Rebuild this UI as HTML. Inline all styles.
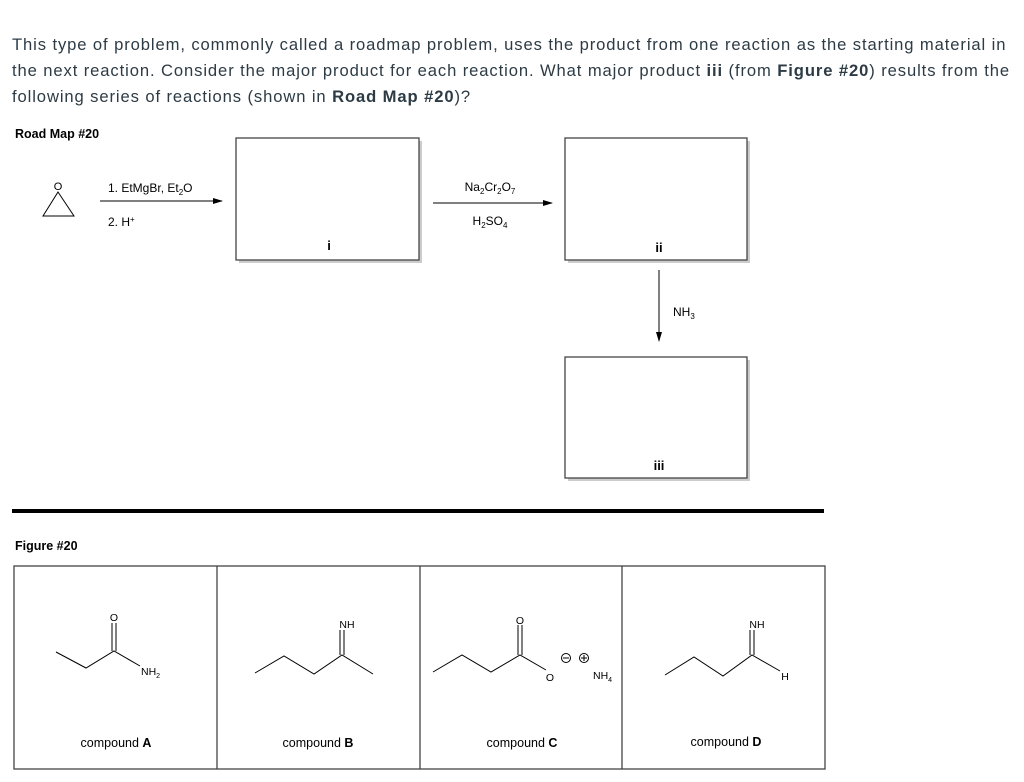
<!DOCTYPE html>
<html><head><meta charset="utf-8"><style>
html,body{margin:0;padding:0;background:#fff;width:1024px;height:782px;overflow:hidden}
p{position:absolute;left:12px;top:32px;margin:0;width:1012px;white-space:nowrap;font-family:"Liberation Sans",sans-serif;font-size:16.6px;letter-spacing:0.9px;line-height:26px;color:#2d3b45}
svg{position:absolute;left:0;top:0}
</style></head><body>
<p>This type of problem, commonly called a roadmap problem, uses the product from one reaction as the starting material in<br>the next reaction. Consider the major product for each reaction. What major product <b>iii</b> (from <b>Figure #20</b>) results from the<br>following series of reactions (shown in <b>Road Map #20</b>)?</p>
<svg width="1024" height="782" font-family="Liberation Sans, sans-serif" fill="#000">
<defs><marker id="ah" markerWidth="10" markerHeight="8" refX="9" refY="4" orient="auto" markerUnits="userSpaceOnUse"><path d="M0,1 L10,4 L0,7 z" fill="#000"/></marker></defs>
<text x="15" y="138" font-size="12.5" font-weight="bold">Road Map #20</text>
<rect x="239" y="141" width="183" height="122" fill="#ccc"/>
<rect x="236" y="138" width="183" height="122" fill="#fff" stroke="#444" stroke-width="1.3"/>
<rect x="568" y="141" width="182" height="122" fill="#ccc"/>
<rect x="565" y="138" width="182" height="122" fill="#fff" stroke="#444" stroke-width="1.3"/>
<rect x="568" y="360" width="182" height="121" fill="#ccc"/>
<rect x="565" y="357" width="182" height="121" fill="#fff" stroke="#444" stroke-width="1.3"/>
<text x="329" y="250" font-size="13" font-weight="bold" text-anchor="middle">i</text>
<text x="659" y="252" font-size="13" font-weight="bold" text-anchor="middle">ii</text>
<text x="659" y="470" font-size="13" font-weight="bold" text-anchor="middle">iii</text>
<text x="58" y="190" font-size="11" text-anchor="middle">O</text>
<path d="M58,192 L43,216 L74,216 Z" fill="none" stroke="#000" stroke-width="1"/>
<line x1="100" y1="201" x2="222" y2="201" stroke="#000" stroke-width="1" marker-end="url(#ah)"/>
<text x="108" y="192" font-size="12">1. EtMgBr, Et<tspan font-size="8" dy="3">2</tspan><tspan dy="-3">O</tspan></text>
<text x="108" y="226" font-size="12">2. H<tspan font-size="8" dy="-4">+</tspan></text>
<line x1="433" y1="203" x2="552" y2="203" stroke="#000" stroke-width="1" marker-end="url(#ah)"/>
<text x="490" y="191" font-size="12" text-anchor="middle">Na<tspan font-size="8" dy="3">2</tspan><tspan dy="-3">Cr</tspan><tspan font-size="8" dy="3">2</tspan><tspan dy="-3">O</tspan><tspan font-size="8" dy="3">7</tspan></text>
<text x="490" y="225" font-size="12" text-anchor="middle">H<tspan font-size="8" dy="3">2</tspan><tspan dy="-3">SO</tspan><tspan font-size="8" dy="3">4</tspan></text>
<line x1="659" y1="270" x2="659" y2="341" stroke="#000" stroke-width="1" marker-end="url(#ah)"/>
<text x="673" y="316" font-size="12">NH<tspan font-size="8" dy="3">3</tspan></text>
<rect x="12" y="509" width="812" height="4" fill="#000"/>
<text x="15" y="550" font-size="12.5" font-weight="bold">Figure #20</text>
<rect x="14" y="566" width="811" height="203" fill="none" stroke="#444" stroke-width="1.3"/>
<line x1="217" y1="566" x2="217" y2="769" stroke="#444" stroke-width="1.3"/>
<line x1="420" y1="566" x2="420" y2="769" stroke="#444" stroke-width="1.3"/>
<line x1="622" y1="566" x2="622" y2="769" stroke="#444" stroke-width="1.3"/>
<g stroke="#000" stroke-width="1" fill="none">
<polyline points="56,652 86,668 114,651 140,666"/>
<line x1="112" y1="623" x2="112" y2="651"/><line x1="116" y1="623" x2="116" y2="651"/>
<polyline points="255,673 284,656 314,674 342,655 373,674"/>
<line x1="340" y1="630" x2="340" y2="655"/><line x1="344" y1="630" x2="344" y2="655"/>
<polyline points="433,672 462,655 491,672 520,655 546,670"/>
<line x1="518" y1="625" x2="518" y2="655"/><line x1="522" y1="625" x2="522" y2="655"/>
<circle cx="566" cy="658" r="4.5"/><line x1="563" y1="658" x2="569" y2="658"/>
<circle cx="584" cy="658" r="4.5"/><line x1="581" y1="658" x2="587" y2="658"/><line x1="584" y1="655" x2="584" y2="661"/>
<polyline points="665,675 694,657 723,676 752,655 780,671"/>
<line x1="750" y1="630" x2="750" y2="655"/><line x1="754" y1="630" x2="754" y2="655"/>
</g>
<g font-size="10.5">
<text x="114" y="621" text-anchor="middle">O</text>
<text x="141" y="675">NH<tspan font-size="7" dy="3">2</tspan></text>
<text x="347" y="628" text-anchor="middle">NH</text>
<text x="520" y="624" text-anchor="middle">O</text>
<text x="550" y="681" text-anchor="middle">O</text>
<text x="593" y="679">NH<tspan font-size="7" dy="3">4</tspan></text>
<text x="757" y="628" text-anchor="middle">NH</text>
<text x="785" y="680" text-anchor="middle">H</text>
</g>
<g font-size="12.5" text-anchor="middle">
<text x="116" y="747">compound <tspan font-weight="bold">A</tspan></text>
<text x="318" y="747">compound <tspan font-weight="bold">B</tspan></text>
<text x="522" y="747">compound <tspan font-weight="bold">C</tspan></text>
<text x="726" y="746">compound <tspan font-weight="bold">D</tspan></text>
</g>
</svg>
</body></html>
